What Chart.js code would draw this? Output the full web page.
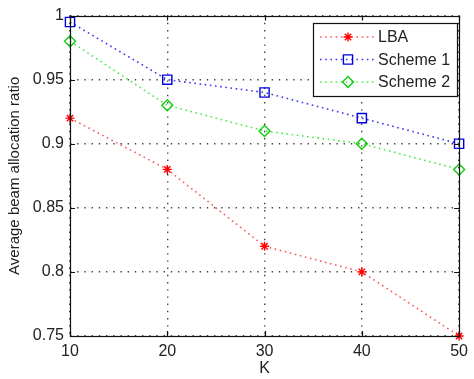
<!DOCTYPE html>
<html>
<head>
<meta charset="utf-8">
<script src="https://cdn.jsdelivr.net/npm/chart.js@4.4.1/dist/chart.umd.min.js"></script>
<style>
html,body{margin:0;padding:0;background:#fff;}
#wrap{width:474px;height:379px;}
</style>
</head>
<body>
<div id="wrap"><canvas id="c" width="474" height="379"></canvas></div>
<script>
const kValues = [10, 20, 30, 40, 50];
const lba = [0.92, 0.88, 0.82, 0.80, 0.75];
const scheme1 = [0.995, 0.95, 0.94, 0.92, 0.90];
const scheme2 = [0.98, 0.93, 0.91, 0.90, 0.88];
const seriesNames = ['LBA', 'Scheme 1', 'Scheme 2'];
const xTicks = [10, 20, 30, 40, 50];
const yTicks = [0.75, 0.8, 0.85, 0.9, 0.95, 1];
const yTickLabels = ['0.75', '0.8', '0.85', '0.9', '0.95', '1'];
const xTitle = 'K';
const yTitle = 'Average beam allocation ratio';

const FONT = "'Liberation Sans', Arial, sans-serif";
const toPts = arr => arr.map((v, i) => ({x: kValues[i], y: v}));

function ds(label, data, lineColor, color, style, radius) {
  return {
    label, data: toPts(data),
    borderColor: lineColor, backgroundColor: 'rgba(0,0,0,0)',
    borderWidth: 1.6, borderDash: [1.6, 3.6],
    pointStyle: style, pointRadius: radius, pointHoverRadius: radius,
    pointBorderColor: color, pointBackgroundColor: 'rgba(0,0,0,0)',
    pointBorderWidth: 1.4, tension: 0, clip: false
  };
}

const frame = {
  id: 'frame',
  afterDatasetsDraw(chart) {
    const {ctx, chartArea: a, scales: {x, y}} = chart;
    ctx.save();
    ctx.strokeStyle = '#111';
    ctx.lineWidth = 1.2;
    ctx.setLineDash([]);
    ctx.strokeRect(Math.round(a.left) + 0.5, Math.round(a.top) + 0.5,
                   Math.round(a.right - a.left), Math.round(a.bottom - a.top));
    ctx.beginPath();
    xTicks.forEach(v => {
      const px = Math.round(x.getPixelForValue(v)) + 0.5;
      ctx.moveTo(px, a.bottom); ctx.lineTo(px, a.bottom - 5);
      ctx.moveTo(px, a.top); ctx.lineTo(px, a.top + 5);
    });
    yTicks.forEach(v => {
      const py = Math.round(y.getPixelForValue(v)) + 0.5;
      ctx.moveTo(a.left, py); ctx.lineTo(a.left + 5, py);
      ctx.moveTo(a.right, py); ctx.lineTo(a.right - 5, py);
    });
    ctx.stroke();
    ctx.restore();
  }
};

const legendBox = {
  id: 'legendBox',
  afterDraw(chart) {
    const {ctx} = chart;
    const bx = 313, by = 23, bw = 144, bh = 73;
    ctx.save();
    ctx.fillStyle = '#fff';
    ctx.fillRect(bx, by, bw, bh);
    ctx.strokeStyle = '#111';
    ctx.lineWidth = 1.2;
    ctx.strokeRect(bx + 0.5, by + 0.5, bw, bh);
    const rows = [37, 59.5, 82];
    chart.data.datasets.forEach((d, i) => {
      const yy = rows[i];
      ctx.save();
      ctx.strokeStyle = d.borderColor;
      ctx.lineWidth = d.borderWidth;
      ctx.setLineDash(d.borderDash);
      ctx.beginPath(); ctx.moveTo(320, yy); ctx.lineTo(375, yy); ctx.stroke();
      ctx.restore();
      ctx.save();
      ctx.strokeStyle = d.pointBorderColor;
      ctx.fillStyle = 'rgba(0,0,0,0)';
      ctx.lineWidth = d.pointBorderWidth;
      Chart.helpers.drawPoint(ctx, {pointStyle: d.pointStyle, radius: d.pointRadius, rotation: 0, borderWidth: d.pointBorderWidth}, 348, yy);
      ctx.restore();
      ctx.fillStyle = '#222';
      ctx.font = '16px ' + FONT;
      ctx.textAlign = 'left';
      ctx.textBaseline = 'middle';
      ctx.fillText(d.label, 378, yy + 1);
    });
    ctx.restore();
  }
};

new Chart(document.getElementById('c'), {
  type: 'line',
  data: {
    datasets: [
      ds(seriesNames[0], lba, '#ff5a5a', '#ff0000', 'star', 4.5),
      ds(seriesNames[1], scheme1, '#3a3af0', '#0000e0', 'rect', 6.5),
      ds(seriesNames[2], scheme2, '#44ee44', '#11cc11', 'rectRot', 5.5)
    ]
  },
  options: {
    responsive: false, animation: false,
    layout: {padding: {top: 13, right: 11, left: 0, bottom: 0}},
    plugins: {legend: {display: false}, tooltip: {enabled: false}},
    scales: {
      x: {
        type: 'linear', min: 10, max: 50,
        afterBuildTicks: s => { s.ticks = xTicks.map(v => ({value: v})); },
        afterFit: s => { s.height = 43; },
        grid: {color: '#444', lineWidth: 1.4, drawTicks: false},
        border: {display: false, dash: [1.4, 5.8]},
        ticks: {color: '#222', font: {family: FONT, size: 16}, padding: 6, maxRotation: 0,
                callback: v => String(v)},
        title: {display: true, text: xTitle, color: '#222', font: {family: FONT, size: 16}, padding: {top: 0, bottom: 1}}
      },
      y: {
        type: 'linear', min: 0.75, max: 1,
        afterBuildTicks: s => { s.ticks = yTicks.map(v => ({value: v})); },
        afterFit: s => { s.width = 70; },
        grid: {color: '#444', lineWidth: 1.4, drawTicks: false},
        border: {display: false, dash: [1.4, 5.8]},
        ticks: {color: '#222', font: {family: FONT, size: 16}, padding: 6,
                callback: v => yTickLabels[yTicks.findIndex(t => Math.abs(t - v) < 1e-9)]},
        title: {display: true, text: yTitle, color: '#222', font: {family: FONT, size: 15}, padding: {top: 6, bottom: 0}}
      }
    }
  },
  plugins: [frame, legendBox]
});
</script>
</body>
</html>
